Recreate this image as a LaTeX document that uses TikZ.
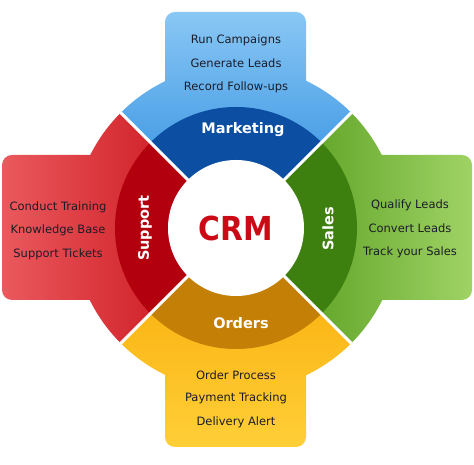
\documentclass[tikz,border=0pt]{standalone}
\usepackage{fontspec}
\setmainfont{DejaVu Sans}

\definecolor{mkttop}{HTML}{8FCBF6}
\definecolor{mktbot}{HTML}{4A9FE6}
\definecolor{mktdark}{HTML}{0B4EA2}
\definecolor{supleft}{HTML}{EA5A5E}
\definecolor{supright}{HTML}{D2252C}
\definecolor{supdark}{HTML}{B3000F}
\definecolor{salleft}{HTML}{66A82D}
\definecolor{salright}{HTML}{A0D466}
\definecolor{saldark}{HTML}{3E800F}
\definecolor{ordtop}{HTML}{FBB616}
\definecolor{ordbot}{HTML}{FFD23C}
\definecolor{orddark}{HTML}{C47F06}
\definecolor{crmred}{HTML}{CC0A16}
\definecolor{itemtext}{HTML}{1C1C28}

\tikzset{
	crm outline/.style = {insert path = {(399,237) arc (0:360:163) -- cycle
		[rounded corners = 10pt] (2,165) -- (472,165) -- (472,310) -- (2,310) -- cycle
		(165,18) -- (306,18) -- (306,453) -- (165,453) -- cycle}}
}

\begin{document}
\begin{tikzpicture}[x = 1pt, y = 1pt, node distance = 23.5pt,
	item/.style = {text = itemtext, font = \fontsize{11.5}{13}\selectfont},
	part/.style = {text = white, font = \bfseries\fontsize{14.5}{16}\selectfont}]
	\useasboundingbox (0,0) rectangle (474,465);
	\coordinate (c) at (236,237);

	% marketing quarter
	\begin{scope}
		\clip (c) -- +(45:400) -- +(135:400) -- cycle;
		\clip [crm outline];
		\shade [top color = mkttop, bottom color = mktbot] (0,320) rectangle (474,465);
		\fill [mktdark] (c) circle (121);
	\end{scope}
	% support quarter
	\begin{scope}
		\clip (c) -- +(135:400) -- +(225:400) -- cycle;
		\clip [crm outline];
		\shade [left color = supleft, right color = supright] (0,0) rectangle (152,465);
		\fill [supdark] (c) circle (121);
	\end{scope}
	% orders quarter
	\begin{scope}
		\clip (c) -- +(225:400) -- +(315:400) -- cycle;
		\clip [crm outline];
		\shade [top color = ordtop, bottom color = ordbot] (0,0) rectangle (474,154);
		\fill [orddark] (c) circle (121);
	\end{scope}
	% sales quarter
	\begin{scope}
		\clip (c) -- +(315:400) -- +(405:400) -- cycle;
		\clip [crm outline];
		\shade [left color = salleft, right color = salright] (320,0) rectangle (474,465);
		\fill [saldark] (c) circle (121);
	\end{scope}

	\foreach \a in {45,135,225,315}
		\draw [white, line width = 3pt] (c) ++(\a:60) -- ++(\a:115);

	\node (crm) [circle, fill = white, minimum size = 136pt, inner sep = 0pt, text = crmred,
		font = \bfseries\fontsize{33}{36}\selectfont] at (c) {\scalebox{0.9}[1]{CRM}};

	\node (marketing) [part] at (243,335) {Marketing};
	\node (orders) [part] at (241,142) {Orders};
	\node (support) [part, rotate = 90] at (145,237) {Support};
	\node (sales) [part, rotate = 90] at (328,236) {Sales};

	\node (campaigns) [item] at (236,425) {Run Campaigns};
	\node (leads) [item, below of = campaigns] {Generate Leads};
	\node (followups) [item, below of = leads] {Record Follow-ups};

	\node (training) [item] at (58,258) {Conduct Training};
	\node (knowledge) [item, below of = training] {Knowledge Base};
	\node (tickets) [item, below of = knowledge] {Support Tickets};

	\node (qualify) [item] at (410,260) {Qualify Leads};
	\node (convert) [item, below of = qualify] {Convert Leads};
	\node (track) [item, below of = convert] {Track your Sales};

	\node (process) [item] at (236,90) {Order Process};
	\node (payment) [item, below of = process] {Payment Tracking};
	\node (delivery) [item, below of = payment] {Delivery Alert};
\end{tikzpicture}
\end{document}
